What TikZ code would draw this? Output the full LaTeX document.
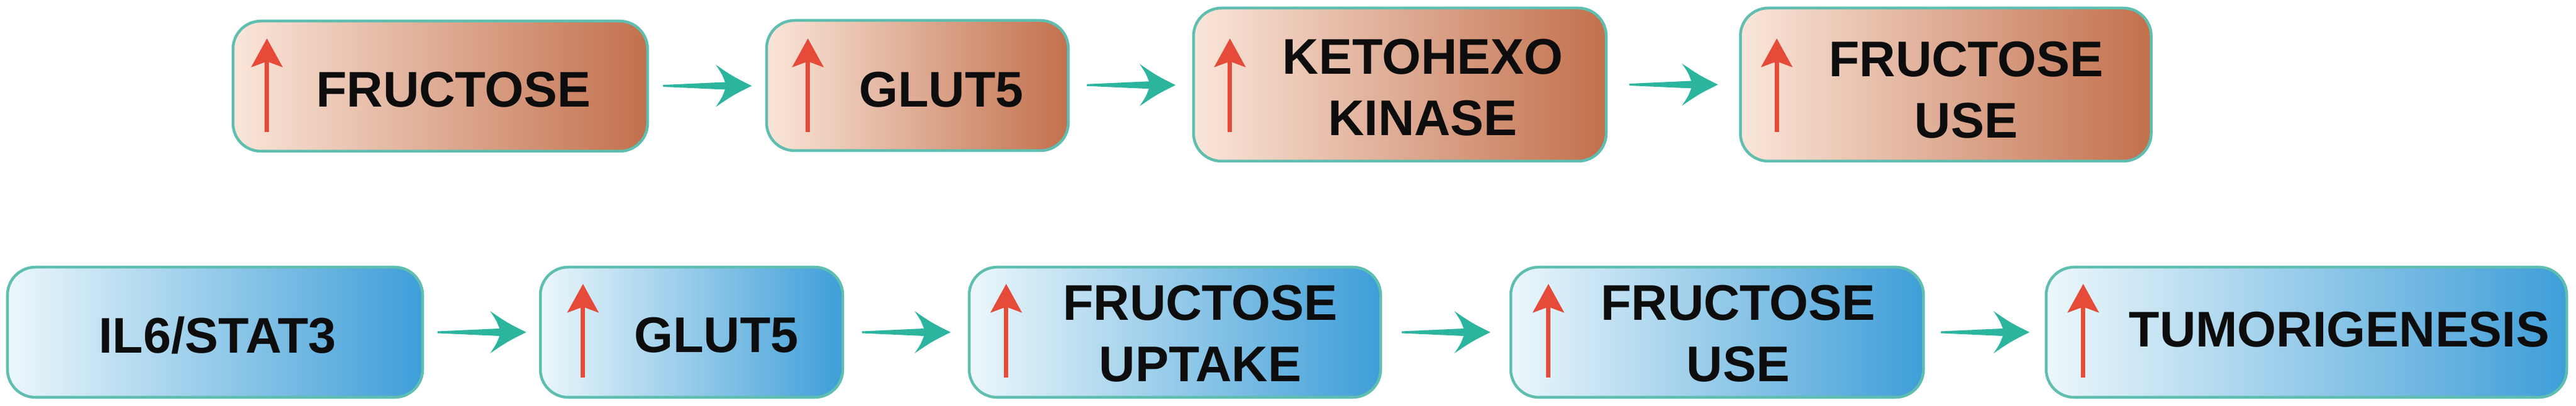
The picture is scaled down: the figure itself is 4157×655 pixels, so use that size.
\documentclass[tikz,border=0pt]{standalone}
\usepackage{fontspec}
\setmainfont{Liberation Sans}
\usetikzlibrary{arrows.meta,calc}
\definecolor{edgec}{RGB}{95,190,176}
\definecolor{conncol}{RGB}{44,181,158}
\definecolor{upred}{RGB}{230,74,56}
\definecolor{brownL}{RGB}{250,230,218}
\definecolor{brownR}{RGB}{194,112,76}
\definecolor{blueL}{RGB}{236,247,251}
\definecolor{blueR}{RGB}{62,158,216}
\tikzset{
  box/.style={draw=edgec, line width=0.045cm, rounded corners=0.45cm, inner sep=0pt},
  brownbox/.style={box, left color=brownL, right color=brownR},
  bluebox/.style={box, left color=blueL, right color=blueR},
  label/.style={font=\fontsize{23}{28.2}\selectfont\bfseries, text=black!95, align=center, inner sep=0pt},
  uparr/.style={draw=upred, line width=0.07cm, -{Stealth[length=0.46cm, width=0.5cm, inset=0.09cm]}},
}
\newcommand\tealarrow[2]{%
  \path (#1.east) -- (#2.west) coordinate[midway] (m-#1-#2);
  \fill[conncol] ([shift={(-71,-1.5)}]m-#1-#2) -- ([shift={(29,-6)}]m-#1-#2)
    .. controls ([shift={(24,-19)}]m-#1-#2) .. ([shift={(14,-34)}]m-#1-#2)
    .. controls ([shift={(42,-15)}]m-#1-#2) .. ([shift={(72,0)}]m-#1-#2)
    .. controls ([shift={(42,15)}]m-#1-#2) .. ([shift={(14,34)}]m-#1-#2)
    .. controls ([shift={(24,19)}]m-#1-#2) .. ([shift={(29,6)}]m-#1-#2)
    -- ([shift={(-71,1.5)}]m-#1-#2) -- cycle;}
\begin{document}
\begin{tikzpicture}[x=0.01cm, y=-0.01cm]
\fill[white] (0,0) rectangle (4157,655);
\useasboundingbox (0,0) rectangle (4157,655);
% top row boxes
\node[brownbox, minimum width=669*0.01cm, minimum height=210*0.01cm] (b1) at (710.5,139) {};
\node[brownbox, minimum width=487*0.01cm, minimum height=210*0.01cm] (b2) at (1480.5,138) {};
\node[brownbox, minimum width=666*0.01cm, minimum height=247*0.01cm] (b3) at (2259,136.5) {};
\node[brownbox, minimum width=663*0.01cm, minimum height=247*0.01cm] (b4) at (3140,136.5) {};
% bottom row boxes
\node[bluebox, minimum width=670*0.01cm, minimum height=210*0.01cm] (c1) at (347,536) {};
\node[bluebox, minimum width=488*0.01cm, minimum height=210*0.01cm] (c2) at (1116,536) {};
\node[bluebox, minimum width=664*0.01cm, minimum height=210*0.01cm] (c3) at (1896,536) {};
\node[bluebox, minimum width=666*0.01cm, minimum height=210*0.01cm] (c4) at (2771,536) {};
\node[bluebox, minimum width=840*0.01cm, minimum height=210*0.01cm] (c5) at (3722,536) {};
% labels
\node[label] (t1) at (732,144.5) {FRUCTOSE};
\node[label] (t2) at (1519,145) {GLUT5};
\node[label] (t3) at (2296,141.5) {KETOHEXO\\KINASE};
\node[label] (t4) at (3173,145) {FRUCTOSE\\USE};
\node[label] (u1) at (351,541) {IL6/STAT3};
\node[label] (u2) at (1156,541) {GLUT5};
\node[label] (u3) at (1937,538) {FRUCTOSE\\UPTAKE};
\node[label] (u4) at (2805,538) {FRUCTOSE\\USE};
\node[label] (u5) at (3775,532) {TUMORIGENESIS};
% up arrows
\foreach \b/\o in {b1/57,b2/69,b3/61,b4/61}{
  \draw[uparr] ([xshift=\o*0.01cm]\b.west |- 0,213) -- ([xshift=\o*0.01cm]\b.west |- 0,62);
}
\foreach \b/\o in {c2/71,c3/62,c4/63,c5/62}{
  \draw[uparr] ([xshift=\o*0.01cm]\b.west |- 0,609) -- ([xshift=\o*0.01cm]\b.west |- 0,458);
}
% connectors
\tealarrow{b1}{b2}
\tealarrow{b2}{b3}
\tealarrow{b3}{b4}
\tealarrow{c1}{c2}
\tealarrow{c2}{c3}
\tealarrow{c3}{c4}
\tealarrow{c4}{c5}
\end{tikzpicture}
\end{document}
